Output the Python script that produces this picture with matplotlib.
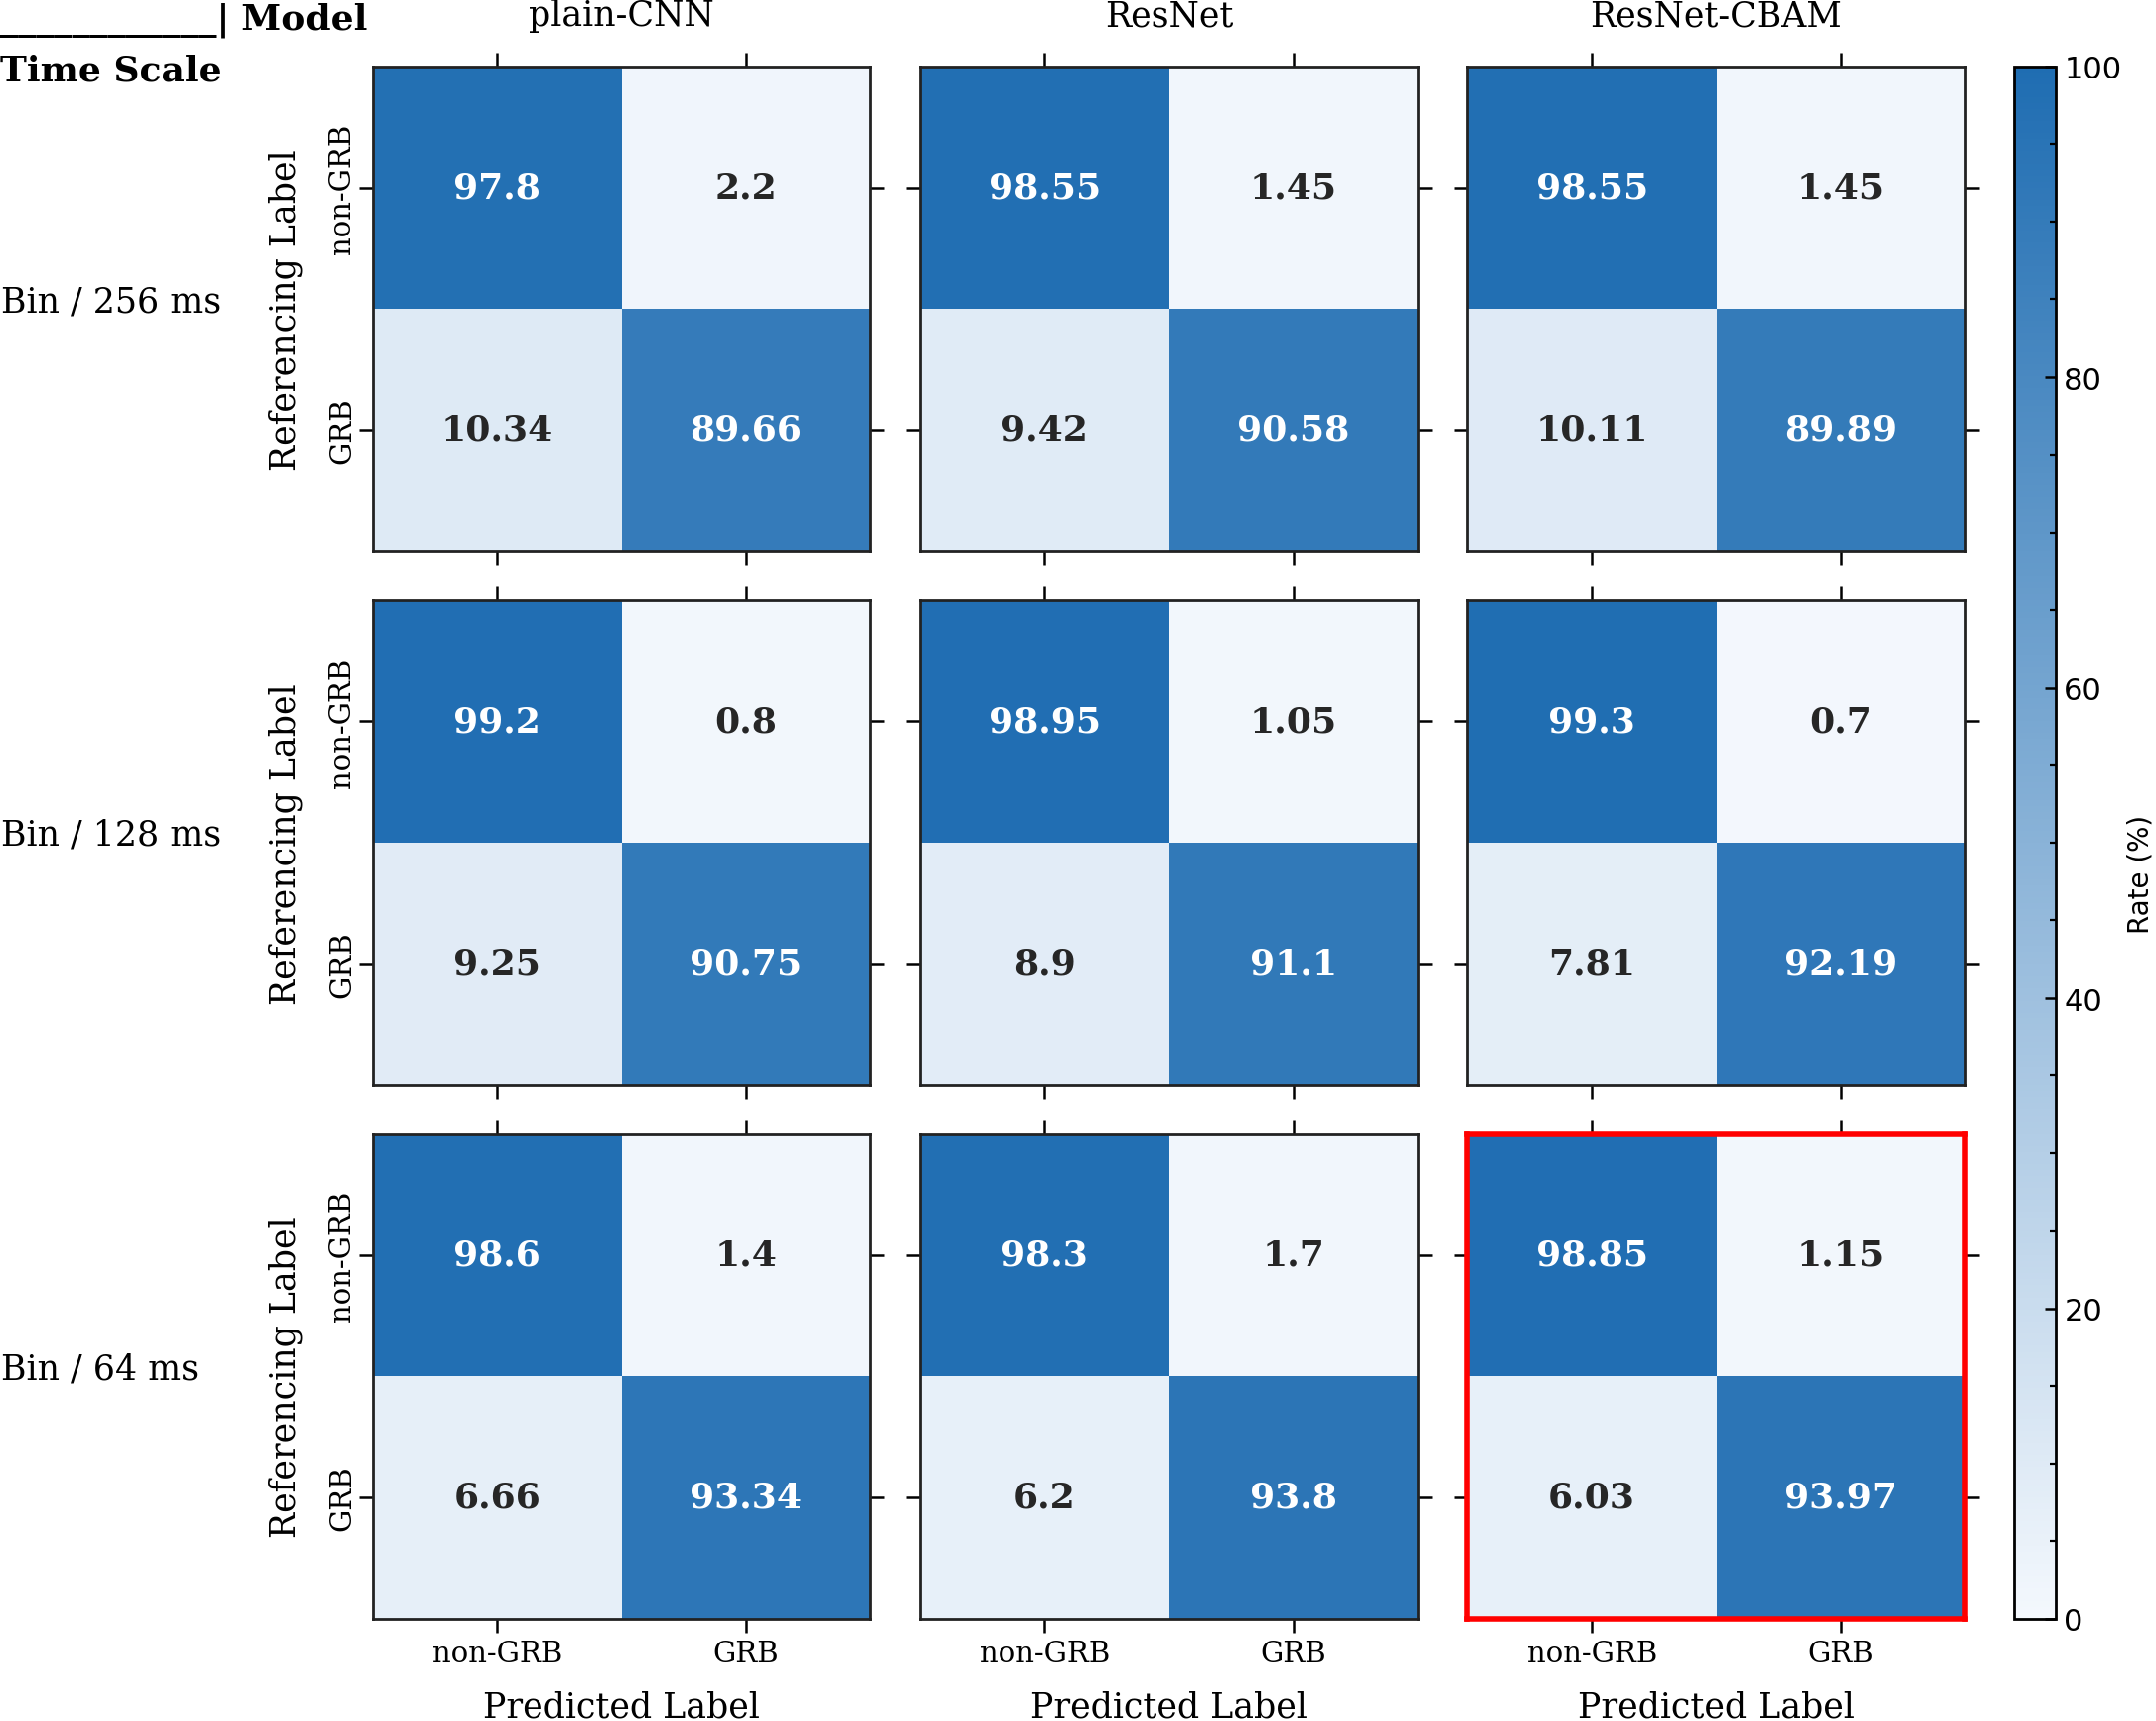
import numpy as np
import matplotlib
matplotlib.use("Agg")
import matplotlib.pyplot as plt
import seaborn as sns
from matplotlib.colors import LinearSegmentedColormap, Normalize
from matplotlib.cm import ScalarMappable
from matplotlib.ticker import MultipleLocator

models = ["plain-CNN", "ResNet", "ResNet-CBAM"]
scales = ["Bin / 256 ms", "Bin / 128 ms", "Bin / 64 ms"]
classes = ["non-GRB", "GRB"]

# rows: true label, cols: predicted label (percent)
rates_256 = [[[97.8, 2.2], [10.34, 89.66]],
             [[98.55, 1.45], [9.42, 90.58]],
             [[98.55, 1.45], [10.11, 89.89]]]
rates_128 = [[[99.2, 0.8], [9.25, 90.75]],
             [[98.95, 1.05], [8.9, 91.1]],
             [[99.3, 0.7], [7.81, 92.19]]]
rates_64 = [[[98.6, 1.4], [6.66, 93.34]],
            [[98.3, 1.7], [6.2, 93.8]],
            [[98.85, 1.15], [6.03, 93.97]]]
all_rates = [rates_256, rates_128, rates_64]

plt.rcParams['font.family'] = ['DejaVu Serif']
cmap = LinearSegmentedColormap.from_list("rate", ["#f4f8fd", "#1f6db2"])
norm = Normalize(vmin=0, vmax=100)

W, H = 2170, 1733
fig = plt.figure(figsize=(W / 200, H / 200), dpi=200)

col_x = [375, 926, 1477]
row_y = [68, 605, 1142]
pw, ph = 501, 488

for r in range(3):
    for c in range(3):
        ax = fig.add_axes([col_x[c] / W, 1 - (row_y[r] + ph) / H, pw / W, ph / H])
        data = np.array(all_rates[r][c])
        sns.heatmap(data, ax=ax, cmap=cmap, vmin=0, vmax=100, cbar=False,
                    annot=True, fmt="g",
                    annot_kws={"fontsize": 13, "fontweight": "bold"},
                    xticklabels=classes, yticklabels=classes)
        for sp in ax.spines.values():
            sp.set_visible(True)
            sp.set_linewidth(1.0)
            sp.set_color("#222222")
        ax.tick_params(top=True, right=True, bottom=True, left=True,
                       direction="out", length=5, width=0.9,
                       labelsize=10.5)
        ax.tick_params(axis="y", labelrotation=90, pad=1)
        ax.tick_params(axis="x", pad=2.5)
        for t in ax.get_yticklabels():
            t.set_va("center")
        if r < 2:
            ax.set_xticklabels([])
        else:
            ax.set_xlabel("Predicted Label", fontsize=12.5, labelpad=8)
        if c > 0:
            ax.set_yticklabels([])
        else:
            ax.set_ylabel("Referencing Label", fontsize=12.5, labelpad=9)
        if r == 0:
            ax.set_title(models[c], fontsize=12.5, pad=15)
        if r == 2 and c == 2:
            for sp in ax.spines.values():
                sp.set_color("red")
                sp.set_linewidth(2.0)

# row labels
for r in range(3):
    fig.text(1 / W, 1 - (row_y[r] + ph / 2 - 8) / H, scales[r], fontsize=12.5,
             ha="left", va="center")

fig.text(0 / W, 1 - 20 / H, "____________| Model", fontsize=13,
         fontweight="bold", ha="left", va="center")
fig.text(0 / W, 1 - 72 / H, "Time Scale", fontsize=13,
         fontweight="bold", ha="left", va="center")

# colorbar
cax = fig.add_axes([2027 / W, 1 - 1630 / H, 42 / W, (1630 - 68) / H])
cb = fig.colorbar(ScalarMappable(norm=norm, cmap=cmap), cax=cax)
cb.set_ticks([0, 20, 40, 60, 80, 100])
cb.ax.yaxis.set_minor_locator(MultipleLocator(5))
cb.ax.tick_params(which="major", direction="in", length=4, width=0.9,
                  labelsize=11, pad=3)
cb.ax.tick_params(which="minor", direction="in", length=2, width=0.8)
for t in cb.ax.get_yticklabels():
    t.set_family("DejaVu Sans")
cb.outline.set_linewidth(1.0)
fig.text(2155 / W, 1 - 880 / H, "Rate (%)", fontsize=10, family="DejaVu Sans",
         rotation=90, ha="center", va="center")

fig.savefig("out.png", dpi=200)
